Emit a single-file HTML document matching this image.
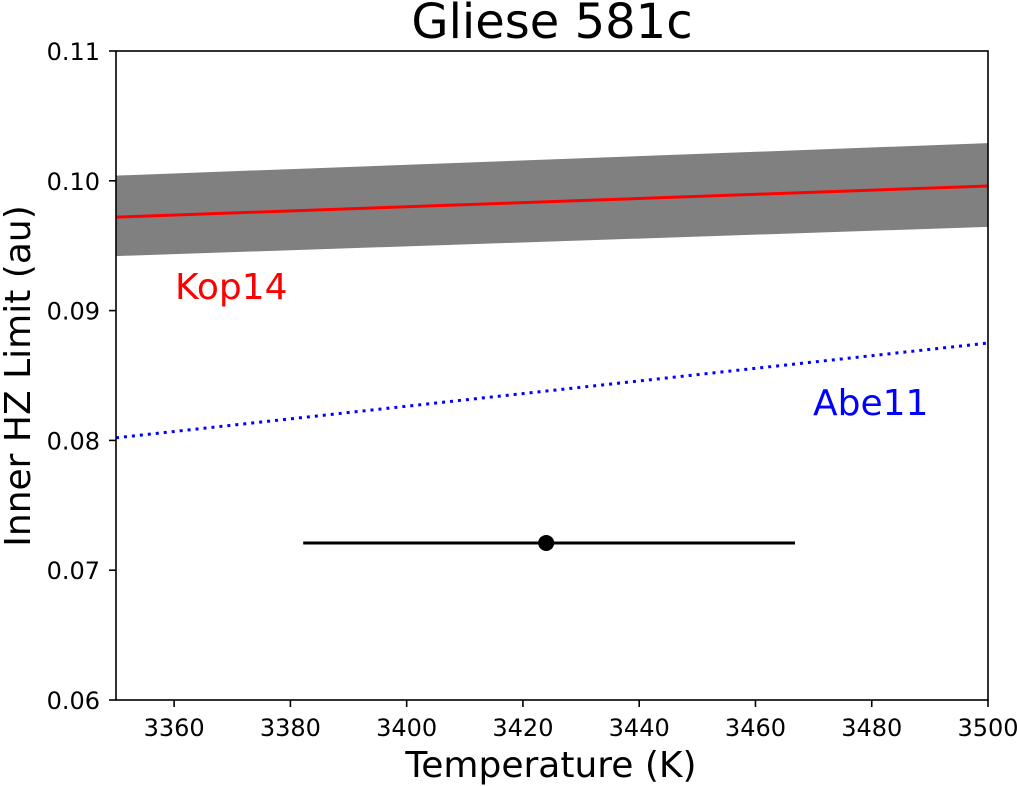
<!DOCTYPE html>
<html><head><meta charset="utf-8"><style>body{margin:0;background:#fff}svg{display:block;font-family:"DejaVu Sans","Liberation Sans",sans-serif}</style></head>
<body>
<svg id="chart" width="1017" height="786"></svg>
<script>
const xTicks=[3360,3380,3400,3420,3440,3460,3480,3500];
const yTicks=[0.06,0.07,0.08,0.09,0.10,0.11];
const yTickLabels=["0.06","0.07","0.08","0.09","0.10","0.11"];
const lineX=[3350,3500];
const bandUpper=[0.1004,0.1029];
const bandLower=[0.0942,0.09645];
const kop14=[0.0972,0.0996];
const abe11=[0.0802,0.0875];
const pointT=[3424];
const pointR=[0.0721];
const pointTErr=[[3382.2,3466.8]];
const X0=116,X1=988,Y0=700,Y1=51;
const xs=v=>X0+(v-3350)/150*(X1-X0);
const ys=v=>Y0-(v-0.06)/0.05*(Y0-Y1);
const svg=document.getElementById('chart');
const NS='http://www.w3.org/2000/svg';
function mk(t,a,txt){const e=document.createElementNS(NS,t);for(const k in a)e.setAttribute(k,a[k]);if(txt!==undefined)e.textContent=txt;svg.appendChild(e);return e;}
let e;
e=mk('polygon',{points:`${xs(lineX[0])},${ys(bandUpper[0])} ${xs(lineX[1])},${ys(bandUpper[1])} ${xs(lineX[1])},${ys(bandLower[1])} ${xs(lineX[0])},${ys(bandLower[0])}`,fill:'#808080'});


e=mk('line',{x1:xs(lineX[0]),y1:ys(kop14[0]),x2:xs(lineX[1]),y2:ys(kop14[1]),stroke:'#ff0000','stroke-width':3});


e=mk('line',{x1:xs(lineX[0]),y1:ys(abe11[0]),x2:xs(lineX[1]),y2:ys(abe11[1]),stroke:'#0000ff','stroke-width':3,'stroke-dasharray':'3,5'});


for(let i=0;i<pointT.length;i++){
e=mk('line',{x1:xs(pointTErr[i][0]),y1:ys(pointR[i]),x2:xs(pointTErr[i][1]),y2:ys(pointR[i]),stroke:'#000','stroke-width':3});


e=mk('circle',{cx:xs(pointT[i]),cy:ys(pointR[i]),r:8,fill:'#000'});


}
e=mk('rect',{x:X0,y:Y1,width:X1-X0,height:Y0-Y1,fill:'none',stroke:'#000','stroke-width':1.6});


xTicks.forEach(t=>{
e=mk('line',{x1:xs(t),y1:Y0,x2:xs(t),y2:Y0+7,stroke:'#000','stroke-width':1.6});


e=mk('text',{x:xs(t),y:Y0+36,'font-size':24,'text-anchor':'middle'},String(t));


});
yTicks.forEach((t,i)=>{
e=mk('line',{x1:X0-7,y1:ys(t),x2:X0,y2:ys(t),stroke:'#000','stroke-width':1.6});


e=mk('text',{x:X0-16,y:ys(t)+9,'font-size':24,'text-anchor':'end'},yTickLabels[i]);


});
e=mk('text',{x:552,y:38,'font-size':48,'text-anchor':'middle'},'Gliese 581c');


e=mk('text',{x:551,y:777,'font-size':36,'text-anchor':'middle'},'Temperature (K)');


e=mk('text',{x:0,y:0,'font-size':36,'text-anchor':'middle',transform:'translate(30,376) rotate(-90)'},'Inner HZ Limit (au)');


e=mk('text',{x:175,y:299,'font-size':36,fill:'#ff0000'},'Kop14');


e=mk('text',{x:813,y:415,'font-size':36,fill:'#0000ff'},'Abe11');


</script>
</body></html>
